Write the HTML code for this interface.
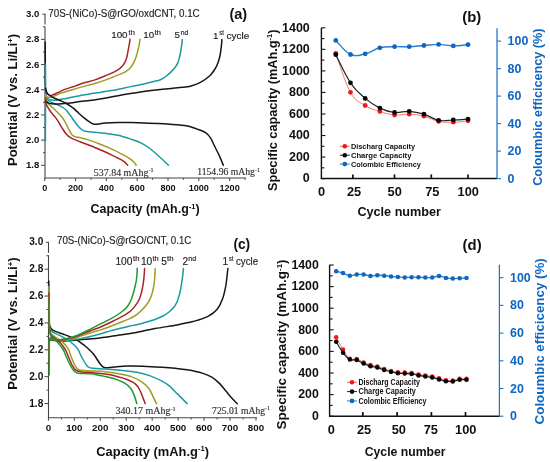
<!DOCTYPE html>
<html><head><meta charset="utf-8"><style>
html,body{margin:0;padding:0;background:#fff;width:550px;height:462px;overflow:hidden;}
svg{display:block;filter:blur(0.35px);}
</style></head><body>
<svg xmlns="http://www.w3.org/2000/svg" width="550" height="462" viewBox="0 0 550 462">
<rect width="550" height="462" fill="#fff"/>
<line x1="45" y1="14.2" x2="45" y2="24.5" stroke="#444" stroke-width="1.1"/>
<line x1="45" y1="26.5" x2="45" y2="178.5" stroke="#444" stroke-width="1.1"/>
<line x1="44.5" y1="178" x2="246" y2="178" stroke="#444" stroke-width="1.1"/>
<line x1="42.3" y1="14.2" x2="45.5" y2="14.2" stroke="#444" stroke-width="1"/>
<line x1="43" y1="26.79" x2="45" y2="26.79" stroke="#444" stroke-width="1"/>
<line x1="41" y1="39.38" x2="45" y2="39.38" stroke="#444" stroke-width="1"/>
<line x1="43" y1="51.97" x2="45" y2="51.97" stroke="#444" stroke-width="1"/>
<line x1="41" y1="64.56" x2="45" y2="64.56" stroke="#444" stroke-width="1"/>
<line x1="43" y1="77.15" x2="45" y2="77.15" stroke="#444" stroke-width="1"/>
<line x1="41" y1="89.74" x2="45" y2="89.74" stroke="#444" stroke-width="1"/>
<line x1="43" y1="102.33" x2="45" y2="102.33" stroke="#444" stroke-width="1"/>
<line x1="41" y1="114.92" x2="45" y2="114.92" stroke="#444" stroke-width="1"/>
<line x1="43" y1="127.51" x2="45" y2="127.51" stroke="#444" stroke-width="1"/>
<line x1="41" y1="140.1" x2="45" y2="140.1" stroke="#444" stroke-width="1"/>
<line x1="43" y1="152.69" x2="45" y2="152.69" stroke="#444" stroke-width="1"/>
<line x1="41" y1="165.28" x2="45" y2="165.28" stroke="#444" stroke-width="1"/>
<line x1="44.8" y1="178" x2="44.8" y2="181" stroke="#444" stroke-width="1"/>
<line x1="60.2" y1="178" x2="60.2" y2="179.8" stroke="#444" stroke-width="1"/>
<line x1="75.6" y1="178" x2="75.6" y2="181" stroke="#444" stroke-width="1"/>
<line x1="91" y1="178" x2="91" y2="179.8" stroke="#444" stroke-width="1"/>
<line x1="106.4" y1="178" x2="106.4" y2="181" stroke="#444" stroke-width="1"/>
<line x1="121.8" y1="178" x2="121.8" y2="179.8" stroke="#444" stroke-width="1"/>
<line x1="137.2" y1="178" x2="137.2" y2="181" stroke="#444" stroke-width="1"/>
<line x1="152.6" y1="178" x2="152.6" y2="179.8" stroke="#444" stroke-width="1"/>
<line x1="168" y1="178" x2="168" y2="181" stroke="#444" stroke-width="1"/>
<line x1="183.4" y1="178" x2="183.4" y2="179.8" stroke="#444" stroke-width="1"/>
<line x1="198.8" y1="178" x2="198.8" y2="181" stroke="#444" stroke-width="1"/>
<line x1="214.2" y1="178" x2="214.2" y2="179.8" stroke="#444" stroke-width="1"/>
<line x1="229.6" y1="178" x2="229.6" y2="181" stroke="#444" stroke-width="1"/>
<line x1="245" y1="178" x2="245" y2="179.8" stroke="#444" stroke-width="1"/>
<text x="39.3" y="17.3" font-family='"Liberation Sans", sans-serif' font-size="9.6" font-weight="bold" fill="#111" text-anchor="end" >3.0</text>
<text x="39.3" y="42.48" font-family='"Liberation Sans", sans-serif' font-size="9.6" font-weight="bold" fill="#111" text-anchor="end" >2.8</text>
<text x="39.3" y="67.66" font-family='"Liberation Sans", sans-serif' font-size="9.6" font-weight="bold" fill="#111" text-anchor="end" >2.6</text>
<text x="39.3" y="92.84" font-family='"Liberation Sans", sans-serif' font-size="9.6" font-weight="bold" fill="#111" text-anchor="end" >2.4</text>
<text x="39.3" y="118.02" font-family='"Liberation Sans", sans-serif' font-size="9.6" font-weight="bold" fill="#111" text-anchor="end" >2.2</text>
<text x="39.3" y="143.2" font-family='"Liberation Sans", sans-serif' font-size="9.6" font-weight="bold" fill="#111" text-anchor="end" >2.0</text>
<text x="39.3" y="168.38" font-family='"Liberation Sans", sans-serif' font-size="9.6" font-weight="bold" fill="#111" text-anchor="end" >1.8</text>
<text x="44.8" y="190.6" font-family='"Liberation Sans", sans-serif' font-size="9.1" font-weight="bold" fill="#111" text-anchor="middle" >0</text>
<text x="75.6" y="190.6" font-family='"Liberation Sans", sans-serif' font-size="9.1" font-weight="bold" fill="#111" text-anchor="middle" >200</text>
<text x="106.4" y="190.6" font-family='"Liberation Sans", sans-serif' font-size="9.1" font-weight="bold" fill="#111" text-anchor="middle" >400</text>
<text x="137.2" y="190.6" font-family='"Liberation Sans", sans-serif' font-size="9.1" font-weight="bold" fill="#111" text-anchor="middle" >600</text>
<text x="168" y="190.6" font-family='"Liberation Sans", sans-serif' font-size="9.1" font-weight="bold" fill="#111" text-anchor="middle" >800</text>
<text x="198.8" y="190.6" font-family='"Liberation Sans", sans-serif' font-size="9.1" font-weight="bold" fill="#111" text-anchor="middle" >1000</text>
<text x="229.6" y="190.6" font-family='"Liberation Sans", sans-serif' font-size="9.1" font-weight="bold" fill="#111" text-anchor="middle" >1200</text>
<path d="M45.2,42 C45.22,46.67 45.27,62.67 45.3,70 C45.33,77.33 45.38,83.33 45.4,86" fill="none" stroke="#161616" stroke-width="1.5" stroke-linejoin="round" stroke-linecap="round"/>
<path d="M45.4,64 C45.42,67.5 45.43,80.17 45.5,85 C45.57,89.83 45.63,90.92 45.8,93 C45.97,95.08 45.97,96.17 46.5,97.5 C47.03,98.83 47.92,100.08 49,101 C50.08,101.92 51.5,102.33 53,103 C54.5,103.67 56.33,104.25 58,105 C59.67,105.75 61.5,106.5 63,107.5 C64.5,108.5 65.45,109.22 67,111 C68.55,112.78 70.4,115.62 72.3,118.2 C74.2,120.78 76.63,124.48 78.4,126.5 C80.17,128.52 81.38,129.45 82.9,130.3 C84.42,131.15 84.72,131.18 87.5,131.6 C90.28,132.02 96.68,132.53 99.6,132.8 C102.52,133.07 101.93,132.78 105,133.2 C108.07,133.62 113.67,134.3 118,135.3 C122.33,136.3 127.1,137.9 131,139.2 C134.9,140.5 138.15,141.47 141.4,143.1 C144.65,144.73 147.48,146.72 150.5,149 C153.52,151.28 156.48,154.1 159.5,156.8 C162.52,159.5 167.08,163.8 168.6,165.2" fill="none" stroke="#1b9aa2" stroke-width="1.5" stroke-linejoin="round" stroke-linecap="round"/>
<path d="M45.4,141 C45.42,135.83 45.43,116.83 45.5,110 C45.57,103.17 45.62,102.02 45.8,100 C45.98,97.98 45.98,97.97 46.6,97.9 C47.22,97.83 48.58,99.23 49.5,99.6 C50.42,99.97 50.73,100.05 52.1,100.1 C53.47,100.15 55.72,100.12 57.7,99.9 C59.68,99.68 61.87,99.2 64,98.8 C66.13,98.4 67.83,98.02 70.5,97.5 C73.17,96.98 76.83,96.3 80,95.7 C83.17,95.1 86.17,94.45 89.5,93.9 C92.83,93.35 96.58,92.92 100,92.4 C103.42,91.88 105.92,91.55 110,90.8 C114.08,90.05 119.65,88.87 124.5,87.9 C129.35,86.93 134.25,86.05 139.1,85 C143.95,83.95 150.05,82.48 153.6,81.6 C157.15,80.72 158.37,80.55 160.4,79.7 C162.43,78.85 163.98,77.85 165.8,76.5 C167.62,75.15 169.67,73.23 171.3,71.6 C172.93,69.97 174.52,68.15 175.6,66.7 C176.68,65.25 177.17,64.43 177.8,62.9 C178.43,61.37 178.9,59.48 179.4,57.5 C179.9,55.52 180.38,53.35 180.8,51 C181.22,48.65 181.65,45.3 181.9,43.4 C182.15,41.5 182.23,40.23 182.3,39.6" fill="none" stroke="#1b9aa2" stroke-width="1.5" stroke-linejoin="round" stroke-linecap="round"/>
<path d="M45.5,95 C45.62,95.83 45.6,98.4 46.2,100 C46.8,101.6 47.92,103.23 49.1,104.6 C50.28,105.97 51.9,106.92 53.3,108.2 C54.7,109.48 56.22,111 57.5,112.3 C58.78,113.6 59.8,114.52 61,116 C62.2,117.48 63.32,118.82 64.7,121.2 C66.08,123.58 68.03,128 69.3,130.3 C70.57,132.6 71.35,133.95 72.3,135 C73.25,136.05 73.98,136.22 75,136.6 C76.02,136.98 76.32,136.8 78.4,137.3 C80.48,137.8 83.97,138.48 87.5,139.6 C91.03,140.72 95.43,142.37 99.6,144 C103.77,145.63 108.78,147.7 112.5,149.4 C116.22,151.1 119.03,152.65 121.9,154.2 C124.77,155.75 127.77,157.43 129.7,158.7 C131.63,159.97 132.42,160.72 133.5,161.8 C134.58,162.88 135.75,164.63 136.2,165.2" fill="none" stroke="#a09c22" stroke-width="1.5" stroke-linejoin="round" stroke-linecap="round"/>
<path d="M45.8,95.5 C46,95.72 46.47,96.5 47,96.8 C47.53,97.1 48.15,97.27 49,97.3 C49.85,97.33 50.07,97.7 52.1,97 C54.13,96.3 58.13,94.23 61.2,93.1 C64.27,91.97 67.37,91.15 70.5,90.2 C73.63,89.25 76.83,88.28 80,87.4 C83.17,86.52 87,85.55 89.5,84.9 C92,84.25 92.28,84.33 95,83.5 C97.72,82.67 102.2,81.22 105.8,79.9 C109.4,78.58 113.35,76.95 116.6,75.6 C119.85,74.25 122.95,73.15 125.3,71.8 C127.65,70.45 129.08,69.48 130.7,67.5 C132.32,65.52 133.83,62.62 135,59.9 C136.17,57.18 136.97,53.9 137.7,51.2 C138.43,48.5 139.03,45.68 139.4,43.7 C139.77,41.72 139.82,40.03 139.9,39.3" fill="none" stroke="#a09c22" stroke-width="1.5" stroke-linejoin="round" stroke-linecap="round"/>
<path d="M45.4,98 C45.48,98.83 45.47,101.4 45.9,103 C46.33,104.6 47.13,106.05 48,107.6 C48.87,109.15 50.02,110.85 51.1,112.3 C52.18,113.75 53.43,114.97 54.5,116.3 C55.57,117.63 56.3,118.47 57.5,120.3 C58.7,122.13 60.25,125 61.7,127.3 C63.15,129.6 64.68,132.33 66.2,134.1 C67.72,135.87 68.52,136.63 70.8,137.9 C73.08,139.17 76.37,140.32 79.9,141.7 C83.43,143.08 88.22,144.68 92,146.2 C95.78,147.72 99.18,149.27 102.6,150.8 C106.02,152.33 109.5,153.97 112.5,155.4 C115.5,156.83 118.52,158.25 120.6,159.4 C122.68,160.55 123.82,161.33 125,162.3 C126.18,163.27 127.25,164.72 127.7,165.2" fill="none" stroke="#a8232b" stroke-width="1.5" stroke-linejoin="round" stroke-linecap="round"/>
<path d="M45.8,91.5 C46.05,91.92 46.45,93.35 47.3,94 C48.15,94.65 49.08,95.65 50.9,95.4 C52.72,95.15 56,93.47 58.2,92.5 C60.4,91.53 61.3,90.67 64.1,89.6 C66.9,88.53 71.82,87.2 75,86.1 C78.18,85 79.87,84.03 83.2,83 C86.53,81.97 91.23,81.13 95,79.9 C98.77,78.67 102.2,77.13 105.8,75.6 C109.4,74.07 113.72,72.42 116.6,70.7 C119.48,68.98 121.47,67.28 123.1,65.3 C124.73,63.32 125.58,61.15 126.4,58.8 C127.22,56.45 127.5,53.72 128,51.2 C128.5,48.68 129.07,45.68 129.4,43.7 C129.73,41.72 129.9,40.03 130,39.3" fill="none" stroke="#a8232b" stroke-width="1.5" stroke-linejoin="round" stroke-linecap="round"/>
<path d="M45.6,88 C45.7,88.43 45.93,89.75 46.2,90.6 C46.47,91.45 46.62,92.28 47.2,93.1 C47.78,93.92 48.38,94.6 49.7,95.5 C51.02,96.4 53.18,97.58 55.1,98.5 C57.02,99.42 59.18,100.08 61.2,101 C63.22,101.92 65.18,102.8 67.2,104 C69.22,105.2 71.7,106.97 73.3,108.2 C74.9,109.43 74.95,109.73 76.8,111.4 C78.65,113.07 82.12,116.32 84.4,118.2 C86.68,120.08 88.85,121.68 90.5,122.7 C92.15,123.72 92.78,124.1 94.3,124.3 C95.82,124.5 97.82,124.12 99.6,123.9 C101.38,123.68 101.93,123.25 105,123 C108.07,122.75 113.67,122.47 118,122.4 C122.33,122.33 126.67,122.5 131,122.6 C135.33,122.7 139.67,122.85 144,123 C148.33,123.15 153.17,123.33 157,123.5 C160.83,123.67 163.67,123.78 167,124 C170.33,124.22 173.55,124.45 177,124.8 C180.45,125.15 184.15,125.32 187.7,126.1 C191.25,126.88 195.27,128.38 198.3,129.5 C201.33,130.62 203.87,131.4 205.9,132.8 C207.93,134.2 208.98,135.53 210.5,137.9 C212.02,140.27 213.5,143.97 215,147 C216.5,150.03 218.12,153.07 219.5,156.1 C220.88,159.13 222.67,163.68 223.3,165.2" fill="none" stroke="#161616" stroke-width="1.5" stroke-linejoin="round" stroke-linecap="round"/>
<path d="M46.3,101.5 C46.77,101.82 47.63,102.98 49.1,103.4 C50.57,103.82 52.95,103.93 55.1,104 C57.25,104.07 59.43,103.95 62,103.8 C64.57,103.65 67.5,103.47 70.5,103.1 C73.5,102.73 76.83,102.02 80,101.6 C83.17,101.18 86.17,101.03 89.5,100.6 C92.83,100.17 96.58,99.57 100,99 C103.42,98.43 105.92,97.97 110,97.2 C114.08,96.43 119.65,95.23 124.5,94.4 C129.35,93.57 134.25,92.88 139.1,92.2 C143.95,91.52 148.75,90.88 153.6,90.3 C158.45,89.72 163.35,89.2 168.2,88.7 C173.05,88.2 179.02,87.72 182.7,87.3 C186.38,86.88 187.35,87.02 190.3,86.2 C193.25,85.38 197.2,84.1 200.4,82.4 C203.6,80.7 207.12,78.15 209.5,76 C211.88,73.85 213.3,71.67 214.7,69.5 C216.1,67.33 217,65.42 217.9,63 C218.8,60.58 219.52,57.87 220.1,55 C220.68,52.13 221.1,48.37 221.4,45.8 C221.7,43.23 221.82,40.63 221.9,39.6" fill="none" stroke="#161616" stroke-width="1.5" stroke-linejoin="round" stroke-linecap="round"/>
<text x="48.3" y="16.8" font-family='"Liberation Sans", sans-serif' font-size="10" font-weight="normal" fill="#222" text-anchor="start" stroke="#222" stroke-width="0.15" textLength="151.4" lengthAdjust="spacingAndGlyphs" >70S-(NiCo)-S@rGO/oxdCNT, 0.1C</text>
<text x="229.4" y="18.6" font-family='"Liberation Sans", sans-serif' font-size="14.6" font-weight="bold" fill="#111" text-anchor="start" textLength="17.8" lengthAdjust="spacingAndGlyphs" >(a)</text>
<text x="111.2" y="38.2" font-family='"Liberation Sans", sans-serif' font-size="9.8" font-weight="normal" fill="#222" text-anchor="start" stroke="#222" stroke-width="0.15" >100</text>
<text x="128.6" y="34.7" font-family='"Liberation Sans", sans-serif' font-size="6.4" font-weight="normal" fill="#222" text-anchor="start" stroke="#222" stroke-width="0.15" textLength="6.2" lengthAdjust="spacingAndGlyphs" >th</text>
<text x="143.3" y="38.2" font-family='"Liberation Sans", sans-serif' font-size="9.8" font-weight="normal" fill="#222" text-anchor="start" stroke="#222" stroke-width="0.15" >10</text>
<text x="154.7" y="34.7" font-family='"Liberation Sans", sans-serif' font-size="6.4" font-weight="normal" fill="#222" text-anchor="start" stroke="#222" stroke-width="0.15" textLength="6.2" lengthAdjust="spacingAndGlyphs" >th</text>
<text x="174.6" y="38.2" font-family='"Liberation Sans", sans-serif' font-size="9.8" font-weight="normal" fill="#222" text-anchor="start" stroke="#222" stroke-width="0.15" >5</text>
<text x="180.8" y="34.7" font-family='"Liberation Sans", sans-serif' font-size="6.4" font-weight="normal" fill="#222" text-anchor="start" stroke="#222" stroke-width="0.15" textLength="7.6" lengthAdjust="spacingAndGlyphs" >nd</text>
<text x="213" y="38.8" font-family='"Liberation Sans", sans-serif' font-size="9.8" font-weight="normal" fill="#222" text-anchor="start" stroke="#222" stroke-width="0.15" >1</text>
<text x="219.2" y="35.3" font-family='"Liberation Sans", sans-serif' font-size="6.4" font-weight="normal" fill="#222" text-anchor="start" stroke="#222" stroke-width="0.15" textLength="4.6" lengthAdjust="spacingAndGlyphs" >st</text>
<text x="226.6" y="38.8" font-family='"Liberation Sans", sans-serif' font-size="9.8" font-weight="normal" fill="#222" text-anchor="start" stroke="#222" stroke-width="0.15" textLength="22.8" lengthAdjust="spacingAndGlyphs" >cycle</text>
<text x="93.8" y="175.6" font-family='"Liberation Serif", serif' font-size="9.3" fill="#333" stroke="#333" stroke-width="0.15" textLength="59.8" lengthAdjust="spacingAndGlyphs">537.84 mAhg<tspan font-size="5.77" dy="-3.5">-1</tspan></text>
<text x="197.2" y="175.1" font-family='"Liberation Serif", serif' font-size="9.3" fill="#333" stroke="#333" stroke-width="0.15" textLength="62.8" lengthAdjust="spacingAndGlyphs">1154.96 mAhg<tspan font-size="5.77" dy="-3.5">-1</tspan></text>
<text x="90.6" y="213.3" font-family='"Liberation Sans", sans-serif' font-size="12.4" font-weight="bold" fill="#111" textLength="109" lengthAdjust="spacingAndGlyphs">Capacity (mAh.g<tspan font-size="7.44" dy="-4.2">-1</tspan><tspan dy="4.2">)</tspan></text>
<text transform="translate(17.3,166) rotate(-90)" x="0" y="0" font-family='"Liberation Sans", sans-serif' font-size="12.9" font-weight="bold" fill="#111" textLength="132" lengthAdjust="spacingAndGlyphs">Potential (V vs. Li/Li<tspan font-size="7.74" dy="-4.5">+</tspan><tspan dy="4.5">)</tspan></text>
<line x1="48.5" y1="242.3" x2="48.5" y2="252.8" stroke="#444" stroke-width="1.1"/>
<line x1="48.5" y1="255.2" x2="48.5" y2="418.2" stroke="#444" stroke-width="1.1"/>
<line x1="48" y1="417.7" x2="257" y2="417.7" stroke="#444" stroke-width="1.1"/>
<line x1="45.8" y1="242.3" x2="49" y2="242.3" stroke="#444" stroke-width="1"/>
<line x1="46.5" y1="255.74" x2="48.5" y2="255.74" stroke="#444" stroke-width="1"/>
<line x1="44.5" y1="269.18" x2="48.5" y2="269.18" stroke="#444" stroke-width="1"/>
<line x1="46.5" y1="282.62" x2="48.5" y2="282.62" stroke="#444" stroke-width="1"/>
<line x1="44.5" y1="296.06" x2="48.5" y2="296.06" stroke="#444" stroke-width="1"/>
<line x1="46.5" y1="309.5" x2="48.5" y2="309.5" stroke="#444" stroke-width="1"/>
<line x1="44.5" y1="322.94" x2="48.5" y2="322.94" stroke="#444" stroke-width="1"/>
<line x1="46.5" y1="336.38" x2="48.5" y2="336.38" stroke="#444" stroke-width="1"/>
<line x1="44.5" y1="349.82" x2="48.5" y2="349.82" stroke="#444" stroke-width="1"/>
<line x1="46.5" y1="363.26" x2="48.5" y2="363.26" stroke="#444" stroke-width="1"/>
<line x1="44.5" y1="376.7" x2="48.5" y2="376.7" stroke="#444" stroke-width="1"/>
<line x1="46.5" y1="390.14" x2="48.5" y2="390.14" stroke="#444" stroke-width="1"/>
<line x1="44.5" y1="403.58" x2="48.5" y2="403.58" stroke="#444" stroke-width="1"/>
<line x1="48.4" y1="417.7" x2="48.4" y2="420.7" stroke="#444" stroke-width="1"/>
<line x1="61.38" y1="417.7" x2="61.38" y2="419.5" stroke="#444" stroke-width="1"/>
<line x1="74.35" y1="417.7" x2="74.35" y2="420.7" stroke="#444" stroke-width="1"/>
<line x1="87.33" y1="417.7" x2="87.33" y2="419.5" stroke="#444" stroke-width="1"/>
<line x1="100.3" y1="417.7" x2="100.3" y2="420.7" stroke="#444" stroke-width="1"/>
<line x1="113.28" y1="417.7" x2="113.28" y2="419.5" stroke="#444" stroke-width="1"/>
<line x1="126.25" y1="417.7" x2="126.25" y2="420.7" stroke="#444" stroke-width="1"/>
<line x1="139.22" y1="417.7" x2="139.22" y2="419.5" stroke="#444" stroke-width="1"/>
<line x1="152.2" y1="417.7" x2="152.2" y2="420.7" stroke="#444" stroke-width="1"/>
<line x1="165.18" y1="417.7" x2="165.18" y2="419.5" stroke="#444" stroke-width="1"/>
<line x1="178.15" y1="417.7" x2="178.15" y2="420.7" stroke="#444" stroke-width="1"/>
<line x1="191.12" y1="417.7" x2="191.12" y2="419.5" stroke="#444" stroke-width="1"/>
<line x1="204.1" y1="417.7" x2="204.1" y2="420.7" stroke="#444" stroke-width="1"/>
<line x1="217.08" y1="417.7" x2="217.08" y2="419.5" stroke="#444" stroke-width="1"/>
<line x1="230.05" y1="417.7" x2="230.05" y2="420.7" stroke="#444" stroke-width="1"/>
<line x1="243.03" y1="417.7" x2="243.03" y2="419.5" stroke="#444" stroke-width="1"/>
<line x1="256" y1="417.7" x2="256" y2="420.7" stroke="#444" stroke-width="1"/>
<text x="43.3" y="245.4" font-family='"Liberation Sans", sans-serif' font-size="10.1" font-weight="bold" fill="#111" text-anchor="end" >3.0</text>
<text x="43.3" y="272.28" font-family='"Liberation Sans", sans-serif' font-size="10.1" font-weight="bold" fill="#111" text-anchor="end" >2.8</text>
<text x="43.3" y="299.16" font-family='"Liberation Sans", sans-serif' font-size="10.1" font-weight="bold" fill="#111" text-anchor="end" >2.6</text>
<text x="43.3" y="326.04" font-family='"Liberation Sans", sans-serif' font-size="10.1" font-weight="bold" fill="#111" text-anchor="end" >2.4</text>
<text x="43.3" y="352.92" font-family='"Liberation Sans", sans-serif' font-size="10.1" font-weight="bold" fill="#111" text-anchor="end" >2.2</text>
<text x="43.3" y="379.8" font-family='"Liberation Sans", sans-serif' font-size="10.1" font-weight="bold" fill="#111" text-anchor="end" >2.0</text>
<text x="43.3" y="406.68" font-family='"Liberation Sans", sans-serif' font-size="10.1" font-weight="bold" fill="#111" text-anchor="end" >1.8</text>
<text x="48.4" y="431" font-family='"Liberation Sans", sans-serif' font-size="9.8" font-weight="bold" fill="#111" text-anchor="middle" >0</text>
<text x="74.35" y="431" font-family='"Liberation Sans", sans-serif' font-size="9.8" font-weight="bold" fill="#111" text-anchor="middle" >100</text>
<text x="100.3" y="431" font-family='"Liberation Sans", sans-serif' font-size="9.8" font-weight="bold" fill="#111" text-anchor="middle" >200</text>
<text x="126.25" y="431" font-family='"Liberation Sans", sans-serif' font-size="9.8" font-weight="bold" fill="#111" text-anchor="middle" >300</text>
<text x="152.2" y="431" font-family='"Liberation Sans", sans-serif' font-size="9.8" font-weight="bold" fill="#111" text-anchor="middle" >400</text>
<text x="178.15" y="431" font-family='"Liberation Sans", sans-serif' font-size="9.8" font-weight="bold" fill="#111" text-anchor="middle" >500</text>
<text x="204.1" y="431" font-family='"Liberation Sans", sans-serif' font-size="9.8" font-weight="bold" fill="#111" text-anchor="middle" >600</text>
<text x="230.05" y="431" font-family='"Liberation Sans", sans-serif' font-size="9.8" font-weight="bold" fill="#111" text-anchor="middle" >700</text>
<text x="256" y="431" font-family='"Liberation Sans", sans-serif' font-size="9.8" font-weight="bold" fill="#111" text-anchor="middle" >800</text>
<path d="M48.8,281 C48.82,284.17 48.83,293.17 48.9,300 C48.97,306.83 49,317.53 49.2,322 C49.4,326.47 49.57,325.5 50.1,326.8 C50.63,328.1 51.42,329 52.4,329.8 C53.38,330.6 54.17,330.87 56,331.6 C57.83,332.33 61.18,333.4 63.4,334.2 C65.62,335 67.22,335.55 69.3,336.4 C71.38,337.25 74.07,338.32 75.9,339.3 C77.73,340.28 78.95,341.32 80.3,342.3 C81.65,343.28 82.72,344.17 84,345.2 C85.28,346.23 86.42,347.03 88,348.5 C89.58,349.97 91.58,351.58 93.5,354 C95.42,356.42 97.98,360.9 99.5,363 C101.02,365.1 101.58,365.8 102.6,366.6 C103.62,367.4 103.68,367.73 105.6,367.8 C107.52,367.87 110.42,367.28 114.1,367 C117.78,366.72 122.9,366.22 127.7,366.1 C132.5,365.98 137.18,366.1 142.9,366.3 C148.62,366.5 156.65,366.97 162,367.3 C167.35,367.63 170.82,367.88 175,368.3 C179.18,368.72 182.57,369 187.1,369.8 C191.63,370.6 198.02,371.85 202.2,373.1 C206.38,374.35 209.28,375.55 212.2,377.3 C215.12,379.05 217.4,381.3 219.7,383.6 C222,385.9 223.92,388.6 226,391.1 C228.08,393.6 230.33,396.52 232.2,398.6 C234.07,400.68 236.37,402.77 237.2,403.6" fill="none" stroke="#161616" stroke-width="1.5" stroke-linejoin="round" stroke-linecap="round"/>
<path d="M49,345 C49.05,344.33 48.97,341.87 49.3,341 C49.63,340.13 50.05,339.87 51,339.8 C51.95,339.73 53.47,340.38 55,340.6 C56.53,340.82 58.2,341.07 60.2,341.1 C62.2,341.13 64.48,340.95 67,340.8 C69.52,340.65 72.3,340.45 75.3,340.2 C78.3,339.95 80.88,339.68 85,339.3 C89.12,338.92 94.25,338.62 100,337.9 C105.75,337.18 113.73,335.85 119.5,335 C125.27,334.15 128.68,333.87 134.6,332.8 C140.52,331.73 147.93,329.9 155,328.6 C162.07,327.3 171.17,326.07 177,325 C182.83,323.93 186.67,322.97 190,322.2 C193.33,321.43 194,321.37 197,320.4 C200,319.43 204.67,318.22 208,316.4 C211.33,314.58 214.62,312.3 217,309.5 C219.38,306.7 220.83,303.55 222.3,299.6 C223.77,295.65 224.93,290.42 225.8,285.8 C226.67,281.18 227.15,274.78 227.5,271.9 C227.85,269.02 227.83,269.07 227.9,268.5" fill="none" stroke="#161616" stroke-width="1.5" stroke-linejoin="round" stroke-linecap="round"/>
<path d="M48.9,286 C48.92,290 48.93,303.5 49,310 C49.07,316.5 49.12,321.7 49.3,325 C49.48,328.3 49.35,328.52 50.1,329.8 C50.85,331.08 52.2,331.78 53.8,332.7 C55.4,333.62 57.73,334.32 59.7,335.3 C61.67,336.28 63.88,337.57 65.6,338.6 C67.32,339.63 68.53,340.4 70,341.5 C71.47,342.6 73.05,343.85 74.4,345.2 C75.75,346.55 76.93,347.72 78.1,349.6 C79.27,351.48 80.1,354.05 81.4,356.5 C82.7,358.95 84.65,362.48 85.9,364.3 C87.15,366.12 87.63,366.73 88.9,367.4 C90.17,368.07 90.82,368.02 93.5,368.3 C96.18,368.58 100.55,368.77 105,369.1 C109.45,369.43 114.87,369.77 120.2,370.3 C125.53,370.83 132.12,371.42 137,372.3 C141.88,373.18 145.33,374.13 149.5,375.6 C153.67,377.07 158.65,379.35 162,381.1 C165.35,382.85 167.08,384.02 169.6,386.1 C172.12,388.18 174.8,391.3 177.1,393.6 C179.4,395.9 181.73,398.23 183.4,399.9 C185.07,401.57 186.48,402.98 187.1,403.6" fill="none" stroke="#1b9aa2" stroke-width="1.5" stroke-linejoin="round" stroke-linecap="round"/>
<path d="M49.1,350 C49.13,348.5 48.98,342.78 49.3,341 C49.62,339.22 50.05,339.38 51,339.3 C51.95,339.22 53.5,340.27 55,340.5 C56.5,340.73 57.88,340.73 60,340.7 C62.12,340.67 65.15,340.48 67.7,340.3 C70.25,340.12 72.42,340.02 75.3,339.6 C78.18,339.18 80.88,338.73 85,337.8 C89.12,336.87 95.88,335.12 100,334 C104.12,332.88 106.45,332 109.7,331.1 C112.95,330.2 116.25,329.42 119.5,328.6 C122.75,327.78 126.53,326.8 129.2,326.2 C131.87,325.6 132.87,325.62 135.5,325 C138.13,324.38 141.75,323.42 145,322.5 C148.25,321.58 152,320.58 155,319.5 C158,318.42 160.67,317.25 163,316 C165.33,314.75 167.17,313.5 169,312 C170.83,310.5 172.67,308.67 174,307 C175.33,305.33 176.17,303.83 177,302 C177.83,300.17 178.42,298 179,296 C179.58,294 180.03,292.33 180.5,290 C180.97,287.67 181.42,284.5 181.8,282 C182.18,279.5 182.53,277.23 182.8,275 C183.07,272.77 183.3,269.67 183.4,268.6" fill="none" stroke="#1b9aa2" stroke-width="1.5" stroke-linejoin="round" stroke-linecap="round"/>
<path d="M49,287 C49.02,290.83 49.02,303.17 49.1,310 C49.18,316.83 49.2,324.1 49.5,328 C49.8,331.9 49.93,331.88 50.9,333.4 C51.87,334.92 53.58,335.87 55.3,337.1 C57.02,338.33 59.6,339.57 61.2,340.8 C62.8,342.03 63.68,343.05 64.9,344.5 C66.12,345.95 67.57,347.75 68.5,349.5 C69.43,351.25 69.62,352.75 70.5,355 C71.38,357.25 72.62,360.65 73.8,363 C74.98,365.35 76.33,367.88 77.6,369.1 C78.87,370.32 79.25,370 81.4,370.3 C83.55,370.6 86.57,370.65 90.5,370.9 C94.43,371.15 100.05,371.27 105,371.8 C109.95,372.33 115.65,373.22 120.2,374.1 C124.75,374.98 128.77,375.83 132.3,377.1 C135.83,378.37 138.63,379.8 141.4,381.7 C144.17,383.6 146.88,385.85 148.9,388.5 C150.92,391.15 152.23,395.08 153.5,397.6 C154.77,400.12 156,402.6 156.5,403.6" fill="none" stroke="#a09c22" stroke-width="1.5" stroke-linejoin="round" stroke-linecap="round"/>
<path d="M49.2,360 C49.22,356.83 49,344.53 49.3,341 C49.6,337.47 50.05,338.97 51,338.8 C51.95,338.63 53.5,339.77 55,340 C56.5,340.23 58,340.23 60,340.2 C62,340.17 64.45,340.17 67,339.8 C69.55,339.43 72.8,338.7 75.3,338 C77.8,337.3 79.55,336.43 82,335.6 C84.45,334.77 87,333.92 90,333 C93,332.08 96.72,331.15 100,330.1 C103.28,329.05 106.45,327.92 109.7,326.7 C112.95,325.48 116.25,324.1 119.5,322.8 C122.75,321.5 126.68,320.03 129.2,318.9 C131.72,317.77 133.02,316.98 134.6,316 C136.18,315.02 136.87,314.67 138.7,313 C140.53,311.33 143.72,308.32 145.6,306 C147.48,303.68 148.85,301.42 150,299.1 C151.15,296.78 151.85,294.42 152.5,292.1 C153.15,289.78 153.55,287.38 153.9,285.2 C154.25,283.02 154.42,281.03 154.6,279 C154.78,276.97 154.9,274.72 155,273 C155.1,271.28 155.17,269.42 155.2,268.7" fill="none" stroke="#a09c22" stroke-width="1.5" stroke-linejoin="round" stroke-linecap="round"/>
<path d="M49,293 C49.02,295.83 49.02,304 49.1,310 C49.18,316 49.2,324.85 49.5,329 C49.8,333.15 49.93,333.3 50.9,334.9 C51.87,336.5 53.83,337.37 55.3,338.6 C56.77,339.83 58.35,340.95 59.7,342.3 C61.05,343.65 62.3,345.17 63.4,346.7 C64.5,348.23 65.45,349.78 66.3,351.5 C67.15,353.22 67.5,354.7 68.5,357 C69.5,359.3 71.03,363.07 72.3,365.3 C73.57,367.53 74.58,369.28 76.1,370.4 C77.62,371.52 79,371.67 81.4,372 C83.8,372.33 86.57,372.05 90.5,372.4 C94.43,372.75 100.57,373.43 105,374.1 C109.43,374.77 113.32,375.47 117.1,376.4 C120.88,377.33 124.67,378.45 127.7,379.7 C130.73,380.95 133.28,382.18 135.3,383.9 C137.32,385.62 138.53,387.72 139.8,390 C141.07,392.28 142,395.33 142.9,397.6 C143.8,399.87 144.82,402.6 145.2,403.6" fill="none" stroke="#a8232b" stroke-width="1.5" stroke-linejoin="round" stroke-linecap="round"/>
<path d="M49.2,365 C49.22,361 49,345.43 49.3,341 C49.6,336.57 50.05,338.6 51,338.4 C51.95,338.2 53.5,339.53 55,339.8 C56.5,340.07 58,340.13 60,340 C62,339.87 64.45,339.53 67,339 C69.55,338.47 72.8,337.58 75.3,336.8 C77.8,336.02 79.55,335.27 82,334.3 C84.45,333.33 87,332.18 90,331 C93,329.82 96.72,328.57 100,327.2 C103.28,325.83 106.45,324.35 109.7,322.8 C112.95,321.25 116.25,319.68 119.5,317.9 C122.75,316.12 126.77,313.88 129.2,312.1 C131.63,310.32 132.52,309.13 134.1,307.2 C135.68,305.27 137.5,302.87 138.7,300.5 C139.9,298.13 140.58,295.55 141.3,293 C142.02,290.45 142.57,287.7 143,285.2 C143.43,282.7 143.67,280.2 143.9,278 C144.13,275.8 144.28,273.57 144.4,272 C144.52,270.43 144.57,269.17 144.6,268.6" fill="none" stroke="#a8232b" stroke-width="1.5" stroke-linejoin="round" stroke-linecap="round"/>
<path d="M49.2,297.5 C49.22,300.42 49.23,309.58 49.3,315 C49.37,320.42 49.33,326.43 49.6,330 C49.87,333.57 50.07,334.85 50.9,336.4 C51.73,337.95 53.38,338.2 54.6,339.3 C55.82,340.4 57.1,341.77 58.2,343 C59.3,344.23 60.22,345.32 61.2,346.7 C62.18,348.08 63.23,349.58 64.1,351.3 C64.97,353.02 65.28,354.53 66.4,357 C67.52,359.47 69.45,363.7 70.8,366.1 C72.15,368.5 73.25,370.22 74.5,371.4 C75.75,372.58 75.63,372.82 78.3,373.2 C80.97,373.58 86.05,373.17 90.5,373.7 C94.95,374.23 100.82,375.5 105,376.4 C109.18,377.3 112.32,377.97 115.6,379.1 C118.88,380.23 122.17,381.63 124.7,383.2 C127.23,384.77 129.17,386.35 130.8,388.5 C132.43,390.65 133.5,393.58 134.5,396.1 C135.5,398.62 136.42,402.35 136.8,403.6" fill="none" stroke="#1c9a2c" stroke-width="1.5" stroke-linejoin="round" stroke-linecap="round"/>
<path d="M49.2,374.8 C49.22,370.67 49.25,355.63 49.3,350 C49.35,344.37 49.25,343 49.5,341 C49.75,339 50.32,338.48 50.8,338 C51.28,337.52 51.53,337.87 52.4,338.1 C53.27,338.33 54.78,339.13 56,339.4 C57.22,339.67 58.37,339.77 59.7,339.7 C61.03,339.63 62.77,339.18 64,339 C65.23,338.82 65.3,339.07 67.1,338.6 C68.9,338.13 72.32,337.1 74.8,336.2 C77.28,335.3 79.47,334.35 82,333.2 C84.53,332.05 87,330.8 90,329.3 C93,327.8 96.72,325.85 100,324.2 C103.28,322.55 106.45,321.18 109.7,319.4 C112.95,317.62 116.73,315.45 119.5,313.5 C122.27,311.55 124.52,309.65 126.3,307.7 C128.08,305.75 129.15,303.83 130.2,301.8 C131.25,299.77 131.98,297.3 132.6,295.5 C133.22,293.7 133.45,292.67 133.9,291 C134.35,289.33 134.88,287.33 135.3,285.5 C135.72,283.67 136.12,281.92 136.4,280 C136.68,278.08 136.85,275.95 137,274 C137.15,272.05 137.25,269.25 137.3,268.3" fill="none" stroke="#1c9a2c" stroke-width="1.5" stroke-linejoin="round" stroke-linecap="round"/>
<text x="57" y="244.2" font-family='"Liberation Sans", sans-serif' font-size="10.6" font-weight="normal" fill="#222" text-anchor="start" stroke="#222" stroke-width="0.15" textLength="134.4" lengthAdjust="spacingAndGlyphs" >70S-(NiCo)-S@rGO/CNT, 0.1C</text>
<text x="233.4" y="248.6" font-family='"Liberation Sans", sans-serif' font-size="14.6" font-weight="bold" fill="#111" text-anchor="start" textLength="16.8" lengthAdjust="spacingAndGlyphs" >(c)</text>
<text x="115.4" y="265.2" font-family='"Liberation Sans", sans-serif' font-size="10.2" font-weight="normal" fill="#222" text-anchor="start" stroke="#222" stroke-width="0.15" >100</text>
<text x="133" y="260.9" font-family='"Liberation Sans", sans-serif' font-size="6.6" font-weight="normal" fill="#222" text-anchor="start" stroke="#222" stroke-width="0.15" textLength="6.4" lengthAdjust="spacingAndGlyphs" >th</text>
<text x="140.9" y="265.2" font-family='"Liberation Sans", sans-serif' font-size="10.2" font-weight="normal" fill="#222" text-anchor="start" stroke="#222" stroke-width="0.15" >10</text>
<text x="152.5" y="260.9" font-family='"Liberation Sans", sans-serif' font-size="6.6" font-weight="normal" fill="#222" text-anchor="start" stroke="#222" stroke-width="0.15" textLength="6.2" lengthAdjust="spacingAndGlyphs" >th</text>
<text x="161.2" y="265.2" font-family='"Liberation Sans", sans-serif' font-size="10.2" font-weight="normal" fill="#222" text-anchor="start" stroke="#222" stroke-width="0.15" >5</text>
<text x="167" y="260.9" font-family='"Liberation Sans", sans-serif' font-size="6.6" font-weight="normal" fill="#222" text-anchor="start" stroke="#222" stroke-width="0.15" textLength="6.5" lengthAdjust="spacingAndGlyphs" >th</text>
<text x="182.4" y="265.2" font-family='"Liberation Sans", sans-serif' font-size="10.2" font-weight="normal" fill="#222" text-anchor="start" stroke="#222" stroke-width="0.15" >2</text>
<text x="188.2" y="260.9" font-family='"Liberation Sans", sans-serif' font-size="6.6" font-weight="normal" fill="#222" text-anchor="start" stroke="#222" stroke-width="0.15" textLength="7.9" lengthAdjust="spacingAndGlyphs" >nd</text>
<text x="222.4" y="265" font-family='"Liberation Sans", sans-serif' font-size="10.2" font-weight="normal" fill="#222" text-anchor="start" stroke="#222" stroke-width="0.15" >1</text>
<text x="228.9" y="260.7" font-family='"Liberation Sans", sans-serif' font-size="6.6" font-weight="normal" fill="#222" text-anchor="start" stroke="#222" stroke-width="0.15" textLength="4.4" lengthAdjust="spacingAndGlyphs" >st</text>
<text x="236" y="265" font-family='"Liberation Sans", sans-serif' font-size="10.2" font-weight="normal" fill="#222" text-anchor="start" stroke="#222" stroke-width="0.15" textLength="22.2" lengthAdjust="spacingAndGlyphs" >cycle</text>
<text x="115.6" y="414" font-family='"Liberation Serif", serif' font-size="9.3" fill="#333" stroke="#333" stroke-width="0.15" textLength="60" lengthAdjust="spacingAndGlyphs">340.17 mAhg<tspan font-size="5.77" dy="-3.5">-1</tspan></text>
<text x="212.1" y="413.6" font-family='"Liberation Serif", serif' font-size="9.3" fill="#333" stroke="#333" stroke-width="0.15" textLength="58" lengthAdjust="spacingAndGlyphs">725.01 mAhg<tspan font-size="5.77" dy="-3.5">-1</tspan></text>
<text x="96.3" y="455.6" font-family='"Liberation Sans", sans-serif' font-size="12.8" font-weight="bold" fill="#111" textLength="112.8" lengthAdjust="spacingAndGlyphs">Capacity (mAh.g<tspan font-size="7.68" dy="-4.2">-1</tspan><tspan dy="4.2">)</tspan></text>
<text transform="translate(17.4,389.8) rotate(-90)" x="0" y="0" font-family='"Liberation Sans", sans-serif' font-size="12.9" font-weight="bold" fill="#111" textLength="132.4" lengthAdjust="spacingAndGlyphs">Potential (V vs. Li/Li<tspan font-size="7.74" dy="-4.5">+</tspan><tspan dy="4.5">)</tspan></text>
<line x1="321.4" y1="27.8" x2="321.4" y2="179.1" stroke="#111" stroke-width="1.4"/>
<line x1="321.4" y1="178.6" x2="325.4" y2="178.6" stroke="#111" stroke-width="1.1"/>
<line x1="321.4" y1="167.83" x2="324.4" y2="167.83" stroke="#111" stroke-width="1.1"/>
<line x1="321.4" y1="157.06" x2="325.4" y2="157.06" stroke="#111" stroke-width="1.1"/>
<line x1="321.4" y1="146.29" x2="324.4" y2="146.29" stroke="#111" stroke-width="1.1"/>
<line x1="321.4" y1="135.52" x2="325.4" y2="135.52" stroke="#111" stroke-width="1.1"/>
<line x1="321.4" y1="124.75" x2="324.4" y2="124.75" stroke="#111" stroke-width="1.1"/>
<line x1="321.4" y1="113.98" x2="325.4" y2="113.98" stroke="#111" stroke-width="1.1"/>
<line x1="321.4" y1="103.21" x2="324.4" y2="103.21" stroke="#111" stroke-width="1.1"/>
<line x1="321.4" y1="92.44" x2="325.4" y2="92.44" stroke="#111" stroke-width="1.1"/>
<line x1="321.4" y1="81.67" x2="324.4" y2="81.67" stroke="#111" stroke-width="1.1"/>
<line x1="321.4" y1="70.9" x2="325.4" y2="70.9" stroke="#111" stroke-width="1.1"/>
<line x1="321.4" y1="60.13" x2="324.4" y2="60.13" stroke="#111" stroke-width="1.1"/>
<line x1="321.4" y1="49.36" x2="325.4" y2="49.36" stroke="#111" stroke-width="1.1"/>
<line x1="321.4" y1="38.59" x2="324.4" y2="38.59" stroke="#111" stroke-width="1.1"/>
<line x1="321.4" y1="27.82" x2="325.4" y2="27.82" stroke="#111" stroke-width="1.1"/>
<text x="309.8" y="182.4" font-family='"Liberation Sans", sans-serif' font-size="12.5" font-weight="bold" fill="#111" text-anchor="end" >0</text>
<text x="309.8" y="160.86" font-family='"Liberation Sans", sans-serif' font-size="12.5" font-weight="bold" fill="#111" text-anchor="end" >200</text>
<text x="309.8" y="139.32" font-family='"Liberation Sans", sans-serif' font-size="12.5" font-weight="bold" fill="#111" text-anchor="end" >400</text>
<text x="309.8" y="117.78" font-family='"Liberation Sans", sans-serif' font-size="12.5" font-weight="bold" fill="#111" text-anchor="end" >600</text>
<text x="309.8" y="96.24" font-family='"Liberation Sans", sans-serif' font-size="12.5" font-weight="bold" fill="#111" text-anchor="end" >800</text>
<text x="309.8" y="74.7" font-family='"Liberation Sans", sans-serif' font-size="12.5" font-weight="bold" fill="#111" text-anchor="end" >1000</text>
<text x="309.8" y="53.16" font-family='"Liberation Sans", sans-serif' font-size="12.5" font-weight="bold" fill="#111" text-anchor="end" >1200</text>
<text x="309.8" y="31.62" font-family='"Liberation Sans", sans-serif' font-size="12.5" font-weight="bold" fill="#111" text-anchor="end" >1400</text>
<line x1="320.8" y1="178.6" x2="497" y2="178.6" stroke="#111" stroke-width="1.5"/>
<line x1="352.9" y1="178.6" x2="352.9" y2="174.4" stroke="#111" stroke-width="1.7"/>
<line x1="394.5" y1="178.6" x2="394.5" y2="174.4" stroke="#111" stroke-width="1.7"/>
<line x1="431.3" y1="178.6" x2="431.3" y2="174.4" stroke="#111" stroke-width="1.7"/>
<line x1="468" y1="178.6" x2="468" y2="174.4" stroke="#111" stroke-width="1.7"/>
<text x="321.6" y="195.9" font-family='"Liberation Sans", sans-serif' font-size="12.8" font-weight="bold" fill="#111" text-anchor="middle" >0</text>
<text x="354" y="195.9" font-family='"Liberation Sans", sans-serif' font-size="12.8" font-weight="bold" fill="#111" text-anchor="middle" >25</text>
<text x="394.7" y="195.9" font-family='"Liberation Sans", sans-serif' font-size="12.8" font-weight="bold" fill="#111" text-anchor="middle" >50</text>
<text x="432.3" y="195.9" font-family='"Liberation Sans", sans-serif' font-size="12.8" font-weight="bold" fill="#111" text-anchor="middle" >75</text>
<text x="468.3" y="195.9" font-family='"Liberation Sans", sans-serif' font-size="12.8" font-weight="bold" fill="#111" text-anchor="middle" >100</text>
<line x1="497" y1="28.2" x2="497" y2="179.1" stroke="#1a6fc0" stroke-width="1.2"/>
<line x1="497" y1="178.6" x2="501" y2="178.6" stroke="#1a6fc0" stroke-width="1.1"/>
<text x="507.6" y="182.6" font-family='"Liberation Sans", sans-serif' font-size="12.4" font-weight="bold" fill="#0d66c2" text-anchor="start" >0</text>
<line x1="497" y1="151.1" x2="501" y2="151.1" stroke="#1a6fc0" stroke-width="1.1"/>
<text x="507.6" y="155.1" font-family='"Liberation Sans", sans-serif' font-size="12.4" font-weight="bold" fill="#0d66c2" text-anchor="start" >20</text>
<line x1="497" y1="123.6" x2="501" y2="123.6" stroke="#1a6fc0" stroke-width="1.1"/>
<text x="507.6" y="127.6" font-family='"Liberation Sans", sans-serif' font-size="12.4" font-weight="bold" fill="#0d66c2" text-anchor="start" >40</text>
<line x1="497" y1="96.1" x2="501" y2="96.1" stroke="#1a6fc0" stroke-width="1.1"/>
<text x="507.6" y="100.1" font-family='"Liberation Sans", sans-serif' font-size="12.4" font-weight="bold" fill="#0d66c2" text-anchor="start" >60</text>
<line x1="497" y1="68.6" x2="501" y2="68.6" stroke="#1a6fc0" stroke-width="1.1"/>
<text x="507.6" y="72.6" font-family='"Liberation Sans", sans-serif' font-size="12.4" font-weight="bold" fill="#0d66c2" text-anchor="start" >80</text>
<line x1="497" y1="41.1" x2="501" y2="41.1" stroke="#1a6fc0" stroke-width="1.1"/>
<text x="507.6" y="45.1" font-family='"Liberation Sans", sans-serif' font-size="12.4" font-weight="bold" fill="#0d66c2" text-anchor="start" >100</text>
<path d="M335.79,40.4 C338.73,43.22 344.6,51.82 350.48,54.5 C356.36,57.18 359.29,55.14 365.17,53.8 C371.05,52.46 373.98,49.22 379.86,47.8 C385.74,46.38 388.67,46.92 394.55,46.7 C400.43,46.48 403.36,46.94 409.24,46.7 C415.12,46.46 418.05,45.96 423.93,45.5 C429.81,45.04 432.74,44.32 438.62,44.4 C444.5,44.48 447.43,45.84 453.31,45.9 C459.19,45.96 465.06,44.94 468,44.7" fill="none" stroke="#2a7dc8" stroke-width="1.4"/>
<path d="M335.79,53.3 C338.73,61.1 344.6,81.86 350.48,92.3 C356.36,102.74 359.29,101.68 365.17,105.5 C371.05,109.32 373.98,109.5 379.86,111.4 C385.74,113.3 388.67,114.44 394.55,115 C400.43,115.56 403.36,113.96 409.24,114.2 C415.12,114.44 418.05,114.76 423.93,116.2 C429.81,117.64 432.74,120.2 438.62,121.4 C444.5,122.6 447.43,122.32 453.31,122.2 C459.19,122.08 465.06,121.08 468,120.8" fill="none" stroke="#ec6a6a" stroke-width="0.9"/>
<circle cx="335.79" cy="53.3" r="2.4" fill="#f01818"/>
<circle cx="350.48" cy="92.3" r="2.4" fill="#f01818"/>
<circle cx="365.17" cy="105.5" r="2.4" fill="#f01818"/>
<circle cx="379.86" cy="111.4" r="2.4" fill="#f01818"/>
<circle cx="394.55" cy="115" r="2.4" fill="#f01818"/>
<circle cx="409.24" cy="114.2" r="2.4" fill="#f01818"/>
<circle cx="423.93" cy="116.2" r="2.4" fill="#f01818"/>
<circle cx="438.62" cy="121.4" r="2.4" fill="#f01818"/>
<circle cx="453.31" cy="122.2" r="2.4" fill="#f01818"/>
<circle cx="468" cy="120.8" r="2.4" fill="#f01818"/>
<path d="M335.79,54.7 C338.73,60.32 344.6,74.06 350.48,82.8 C356.36,91.54 359.29,93.34 365.17,98.4 C371.05,103.46 373.98,105.28 379.86,108.1 C385.74,110.92 388.67,111.86 394.55,112.5 C400.43,113.14 403.36,110.98 409.24,111.3 C415.12,111.62 418.05,112.3 423.93,114.1 C429.81,115.9 432.74,119.12 438.62,120.3 C444.5,121.48 447.43,120.24 453.31,120 C459.19,119.76 465.06,119.28 468,119.1" fill="none" stroke="#222" stroke-width="1.2"/>
<circle cx="335.79" cy="54.7" r="2.4" fill="#050505"/>
<circle cx="350.48" cy="82.8" r="2.4" fill="#050505"/>
<circle cx="365.17" cy="98.4" r="2.4" fill="#050505"/>
<circle cx="379.86" cy="108.1" r="2.4" fill="#050505"/>
<circle cx="394.55" cy="112.5" r="2.4" fill="#050505"/>
<circle cx="409.24" cy="111.3" r="2.4" fill="#050505"/>
<circle cx="423.93" cy="114.1" r="2.4" fill="#050505"/>
<circle cx="438.62" cy="120.3" r="2.4" fill="#050505"/>
<circle cx="453.31" cy="120" r="2.4" fill="#050505"/>
<circle cx="468" cy="119.1" r="2.4" fill="#050505"/>
<circle cx="335.79" cy="40.4" r="2.4" fill="#0d66c2"/>
<circle cx="350.48" cy="54.5" r="2.4" fill="#0d66c2"/>
<circle cx="365.17" cy="53.8" r="2.4" fill="#0d66c2"/>
<circle cx="379.86" cy="47.8" r="2.4" fill="#0d66c2"/>
<circle cx="394.55" cy="46.7" r="2.4" fill="#0d66c2"/>
<circle cx="409.24" cy="46.7" r="2.4" fill="#0d66c2"/>
<circle cx="423.93" cy="45.5" r="2.4" fill="#0d66c2"/>
<circle cx="438.62" cy="44.4" r="2.4" fill="#0d66c2"/>
<circle cx="453.31" cy="45.9" r="2.4" fill="#0d66c2"/>
<circle cx="468" cy="44.7" r="2.4" fill="#0d66c2"/>
<line x1="339.8" y1="146.3" x2="349.8" y2="146.3" stroke="#ec6a6a" stroke-width="1"/>
<circle cx="344.8" cy="146.3" r="2.3" fill="#f01818"/>
<text x="350.9" y="149.1" font-family='"Liberation Sans", sans-serif' font-size="7.8" font-weight="bold" fill="#111" text-anchor="start" textLength="64.2" lengthAdjust="spacingAndGlyphs" >Discharg Capacity</text>
<line x1="339.8" y1="155.2" x2="349.8" y2="155.2" stroke="#222" stroke-width="1"/>
<circle cx="344.8" cy="155.2" r="2.3" fill="#050505"/>
<text x="350.9" y="158" font-family='"Liberation Sans", sans-serif' font-size="7.8" font-weight="bold" fill="#111" text-anchor="start" textLength="60.5" lengthAdjust="spacingAndGlyphs" >Charge Capacity</text>
<line x1="339.8" y1="164.1" x2="349.8" y2="164.1" stroke="#2a7dc8" stroke-width="1"/>
<circle cx="344.8" cy="164.1" r="2.3" fill="#0d66c2"/>
<text x="350.9" y="166.9" font-family='"Liberation Sans", sans-serif' font-size="7.8" font-weight="bold" fill="#111" text-anchor="start" textLength="70" lengthAdjust="spacingAndGlyphs" >Colombic Efficiency</text>
<text x="357.4" y="216" font-family='"Liberation Sans", sans-serif' font-size="12" font-weight="bold" fill="#111" text-anchor="start" textLength="83.6" lengthAdjust="spacingAndGlyphs" >Cycle number</text>
<text transform="translate(276.6,191) rotate(-90)" x="0" y="0" font-family='"Liberation Sans", sans-serif' font-size="12.7" font-weight="bold" fill="#111" textLength="161.6" lengthAdjust="spacingAndGlyphs">Specific capacity (mAh.g<tspan font-size="7.62" dy="-4.5">-1</tspan><tspan dy="4.5">)</tspan></text>
<text transform="translate(542.3,185.8) rotate(-90)" x="0" y="0" font-family='"Liberation Sans", sans-serif' font-size="12.6" font-weight="bold" fill="#0d66c2" text-anchor="start" textLength="157.2" lengthAdjust="spacingAndGlyphs" >Coloumbic efficicency (%)</text>
<text x="462.2" y="22.2" font-family='"Liberation Sans", sans-serif' font-size="15" font-weight="bold" fill="#111" text-anchor="start" textLength="19" lengthAdjust="spacingAndGlyphs" >(b)</text>
<line x1="329.6" y1="264.8" x2="329.6" y2="416.7" stroke="#111" stroke-width="1.4"/>
<line x1="329.6" y1="416.2" x2="333.6" y2="416.2" stroke="#111" stroke-width="1.1"/>
<line x1="329.6" y1="405.4" x2="332.6" y2="405.4" stroke="#111" stroke-width="1.1"/>
<line x1="329.6" y1="394.6" x2="333.6" y2="394.6" stroke="#111" stroke-width="1.1"/>
<line x1="329.6" y1="383.8" x2="332.6" y2="383.8" stroke="#111" stroke-width="1.1"/>
<line x1="329.6" y1="373" x2="333.6" y2="373" stroke="#111" stroke-width="1.1"/>
<line x1="329.6" y1="362.2" x2="332.6" y2="362.2" stroke="#111" stroke-width="1.1"/>
<line x1="329.6" y1="351.4" x2="333.6" y2="351.4" stroke="#111" stroke-width="1.1"/>
<line x1="329.6" y1="340.6" x2="332.6" y2="340.6" stroke="#111" stroke-width="1.1"/>
<line x1="329.6" y1="329.8" x2="333.6" y2="329.8" stroke="#111" stroke-width="1.1"/>
<line x1="329.6" y1="319" x2="332.6" y2="319" stroke="#111" stroke-width="1.1"/>
<line x1="329.6" y1="308.2" x2="333.6" y2="308.2" stroke="#111" stroke-width="1.1"/>
<line x1="329.6" y1="297.4" x2="332.6" y2="297.4" stroke="#111" stroke-width="1.1"/>
<line x1="329.6" y1="286.6" x2="333.6" y2="286.6" stroke="#111" stroke-width="1.1"/>
<line x1="329.6" y1="275.8" x2="332.6" y2="275.8" stroke="#111" stroke-width="1.1"/>
<line x1="329.6" y1="265" x2="333.6" y2="265" stroke="#111" stroke-width="1.1"/>
<text x="318.8" y="420" font-family='"Liberation Sans", sans-serif' font-size="12.3" font-weight="bold" fill="#111" text-anchor="end" >0</text>
<text x="318.8" y="398.4" font-family='"Liberation Sans", sans-serif' font-size="12.3" font-weight="bold" fill="#111" text-anchor="end" >200</text>
<text x="318.8" y="376.8" font-family='"Liberation Sans", sans-serif' font-size="12.3" font-weight="bold" fill="#111" text-anchor="end" >400</text>
<text x="318.8" y="355.2" font-family='"Liberation Sans", sans-serif' font-size="12.3" font-weight="bold" fill="#111" text-anchor="end" >600</text>
<text x="318.8" y="333.6" font-family='"Liberation Sans", sans-serif' font-size="12.3" font-weight="bold" fill="#111" text-anchor="end" >800</text>
<text x="318.8" y="312" font-family='"Liberation Sans", sans-serif' font-size="12.3" font-weight="bold" fill="#111" text-anchor="end" >1000</text>
<text x="318.8" y="290.4" font-family='"Liberation Sans", sans-serif' font-size="12.3" font-weight="bold" fill="#111" text-anchor="end" >1200</text>
<text x="318.8" y="268.8" font-family='"Liberation Sans", sans-serif' font-size="12.3" font-weight="bold" fill="#111" text-anchor="end" >1400</text>
<line x1="329" y1="416.2" x2="499.4" y2="416.2" stroke="#111" stroke-width="1.5"/>
<line x1="362.8" y1="416.2" x2="362.8" y2="412" stroke="#111" stroke-width="1.7"/>
<line x1="397.1" y1="416.2" x2="397.1" y2="412" stroke="#111" stroke-width="1.7"/>
<line x1="431.4" y1="416.2" x2="431.4" y2="412" stroke="#111" stroke-width="1.7"/>
<line x1="465.5" y1="416.2" x2="465.5" y2="412" stroke="#111" stroke-width="1.7"/>
<text x="331.3" y="433.8" font-family='"Liberation Sans", sans-serif' font-size="12.8" font-weight="bold" fill="#111" text-anchor="middle" >0</text>
<text x="364" y="433.8" font-family='"Liberation Sans", sans-serif' font-size="12.8" font-weight="bold" fill="#111" text-anchor="middle" >25</text>
<text x="398.8" y="433.8" font-family='"Liberation Sans", sans-serif' font-size="12.8" font-weight="bold" fill="#111" text-anchor="middle" >50</text>
<text x="430.8" y="433.8" font-family='"Liberation Sans", sans-serif' font-size="12.8" font-weight="bold" fill="#111" text-anchor="middle" >75</text>
<text x="465.7" y="433.8" font-family='"Liberation Sans", sans-serif' font-size="12.8" font-weight="bold" fill="#111" text-anchor="middle" >100</text>
<line x1="499.4" y1="264.7" x2="499.4" y2="416.7" stroke="#1a6fc0" stroke-width="1.2"/>
<line x1="499.4" y1="416.2" x2="503.4" y2="416.2" stroke="#1a6fc0" stroke-width="1.1"/>
<text x="510" y="420.2" font-family='"Liberation Sans", sans-serif' font-size="12.4" font-weight="bold" fill="#0d66c2" text-anchor="start" >0</text>
<line x1="499.4" y1="388.5" x2="503.4" y2="388.5" stroke="#1a6fc0" stroke-width="1.1"/>
<text x="510" y="392.5" font-family='"Liberation Sans", sans-serif' font-size="12.4" font-weight="bold" fill="#0d66c2" text-anchor="start" >20</text>
<line x1="499.4" y1="360.8" x2="503.4" y2="360.8" stroke="#1a6fc0" stroke-width="1.1"/>
<text x="510" y="364.8" font-family='"Liberation Sans", sans-serif' font-size="12.4" font-weight="bold" fill="#0d66c2" text-anchor="start" >40</text>
<line x1="499.4" y1="333.1" x2="503.4" y2="333.1" stroke="#1a6fc0" stroke-width="1.1"/>
<text x="510" y="337.1" font-family='"Liberation Sans", sans-serif' font-size="12.4" font-weight="bold" fill="#0d66c2" text-anchor="start" >60</text>
<line x1="499.4" y1="305.4" x2="503.4" y2="305.4" stroke="#1a6fc0" stroke-width="1.1"/>
<text x="510" y="309.4" font-family='"Liberation Sans", sans-serif' font-size="12.4" font-weight="bold" fill="#0d66c2" text-anchor="start" >80</text>
<line x1="499.4" y1="277.7" x2="503.4" y2="277.7" stroke="#1a6fc0" stroke-width="1.1"/>
<text x="510" y="281.7" font-family='"Liberation Sans", sans-serif' font-size="12.4" font-weight="bold" fill="#0d66c2" text-anchor="start" >100</text>
<path d="M336.16,271.3 C337.53,271.66 340.28,272.22 343.02,273.1 C345.76,273.98 347.14,275.42 349.88,275.7 C352.62,275.98 354,274.74 356.74,274.5 C359.48,274.26 360.86,274.2 363.6,274.5 C366.34,274.8 367.72,275.84 370.46,276 C373.2,276.16 374.58,275.36 377.32,275.3 C380.06,275.24 381.44,275.48 384.18,275.7 C386.92,275.92 388.3,276.16 391.04,276.4 C393.78,276.64 395.16,276.68 397.9,276.9 C400.64,277.12 402.02,277.44 404.76,277.5 C407.5,277.56 408.88,277.26 411.62,277.2 C414.36,277.14 415.74,277.14 418.48,277.2 C421.22,277.26 422.6,277.44 425.34,277.5 C428.08,277.56 429.46,277.8 432.2,277.5 C434.94,277.2 436.32,275.92 439.06,276 C441.8,276.08 443.18,277.38 445.92,277.9 C448.66,278.42 450.04,278.54 452.78,278.6 C455.52,278.66 456.9,278.34 459.64,278.2 C462.38,278.06 465.13,277.96 466.5,277.9" fill="none" stroke="#2a7dc8" stroke-width="1.4"/>
<path d="M336.16,337.3 C337.53,339.74 340.28,345.2 343.02,349.5 C345.76,353.8 347.14,356.92 349.88,358.8 C352.62,360.68 354,358.18 356.74,358.9 C359.48,359.62 360.86,361.18 363.6,362.4 C366.34,363.62 367.72,364.2 370.46,365 C373.2,365.8 374.58,365.62 377.32,366.4 C380.06,367.18 381.44,368 384.18,368.9 C386.92,369.8 388.3,370.24 391.04,370.9 C393.78,371.56 395.16,371.86 397.9,372.2 C400.64,372.54 402.02,372.46 404.76,372.6 C407.5,372.74 408.88,372.54 411.62,372.9 C414.36,373.26 415.74,373.88 418.48,374.4 C421.22,374.92 422.6,375.08 425.34,375.5 C428.08,375.92 429.46,375.94 432.2,376.5 C434.94,377.06 436.32,377.56 439.06,378.3 C441.8,379.04 443.18,379.78 445.92,380.2 C448.66,380.62 450.04,380.7 452.78,380.4 C455.52,380.1 456.9,379.04 459.64,378.7 C462.38,378.36 465.13,378.7 466.5,378.7" fill="none" stroke="#ec6a6a" stroke-width="0.9"/>
<circle cx="336.16" cy="337.3" r="2.25" fill="#f01818"/>
<circle cx="343.02" cy="349.5" r="2.25" fill="#f01818"/>
<circle cx="349.88" cy="358.8" r="2.25" fill="#f01818"/>
<circle cx="356.74" cy="358.9" r="2.25" fill="#f01818"/>
<circle cx="363.6" cy="362.4" r="2.25" fill="#f01818"/>
<circle cx="370.46" cy="365" r="2.25" fill="#f01818"/>
<circle cx="377.32" cy="366.4" r="2.25" fill="#f01818"/>
<circle cx="384.18" cy="368.9" r="2.25" fill="#f01818"/>
<circle cx="391.04" cy="370.9" r="2.25" fill="#f01818"/>
<circle cx="397.9" cy="372.2" r="2.25" fill="#f01818"/>
<circle cx="404.76" cy="372.6" r="2.25" fill="#f01818"/>
<circle cx="411.62" cy="372.9" r="2.25" fill="#f01818"/>
<circle cx="418.48" cy="374.4" r="2.25" fill="#f01818"/>
<circle cx="425.34" cy="375.5" r="2.25" fill="#f01818"/>
<circle cx="432.2" cy="376.5" r="2.25" fill="#f01818"/>
<circle cx="439.06" cy="378.3" r="2.25" fill="#f01818"/>
<circle cx="445.92" cy="380.2" r="2.25" fill="#f01818"/>
<circle cx="452.78" cy="380.4" r="2.25" fill="#f01818"/>
<circle cx="459.64" cy="378.7" r="2.25" fill="#f01818"/>
<circle cx="466.5" cy="378.7" r="2.25" fill="#f01818"/>
<path d="M336.16,341.8 C337.53,343.98 340.28,349.16 343.02,352.7 C345.76,356.24 347.14,358.04 349.88,359.5 C352.62,360.96 354,359.18 356.74,360 C359.48,360.82 360.86,362.36 363.6,363.6 C366.34,364.84 367.72,365.4 370.46,366.2 C373.2,367 374.58,366.84 377.32,367.6 C380.06,368.36 381.44,369.14 384.18,370 C386.92,370.86 388.3,371.26 391.04,371.9 C393.78,372.54 395.16,372.86 397.9,373.2 C400.64,373.54 402.02,373.46 404.76,373.6 C407.5,373.74 408.88,373.54 411.62,373.9 C414.36,374.26 415.74,374.88 418.48,375.4 C421.22,375.92 422.6,376.08 425.34,376.5 C428.08,376.92 429.46,376.92 432.2,377.5 C434.94,378.08 436.32,378.66 439.06,379.4 C441.8,380.14 443.18,380.78 445.92,381.2 C448.66,381.62 450.04,381.8 452.78,381.5 C455.52,381.2 456.9,380.06 459.64,379.7 C462.38,379.34 465.13,379.7 466.5,379.7" fill="none" stroke="#222" stroke-width="1.2"/>
<circle cx="336.16" cy="341.8" r="2.25" fill="#050505"/>
<circle cx="343.02" cy="352.7" r="2.25" fill="#050505"/>
<circle cx="349.88" cy="359.5" r="2.25" fill="#050505"/>
<circle cx="356.74" cy="360" r="2.25" fill="#050505"/>
<circle cx="363.6" cy="363.6" r="2.25" fill="#050505"/>
<circle cx="370.46" cy="366.2" r="2.25" fill="#050505"/>
<circle cx="377.32" cy="367.6" r="2.25" fill="#050505"/>
<circle cx="384.18" cy="370" r="2.25" fill="#050505"/>
<circle cx="391.04" cy="371.9" r="2.25" fill="#050505"/>
<circle cx="397.9" cy="373.2" r="2.25" fill="#050505"/>
<circle cx="404.76" cy="373.6" r="2.25" fill="#050505"/>
<circle cx="411.62" cy="373.9" r="2.25" fill="#050505"/>
<circle cx="418.48" cy="375.4" r="2.25" fill="#050505"/>
<circle cx="425.34" cy="376.5" r="2.25" fill="#050505"/>
<circle cx="432.2" cy="377.5" r="2.25" fill="#050505"/>
<circle cx="439.06" cy="379.4" r="2.25" fill="#050505"/>
<circle cx="445.92" cy="381.2" r="2.25" fill="#050505"/>
<circle cx="452.78" cy="381.5" r="2.25" fill="#050505"/>
<circle cx="459.64" cy="379.7" r="2.25" fill="#050505"/>
<circle cx="466.5" cy="379.7" r="2.25" fill="#050505"/>
<circle cx="336.16" cy="271.3" r="2.25" fill="#0d66c2"/>
<circle cx="343.02" cy="273.1" r="2.25" fill="#0d66c2"/>
<circle cx="349.88" cy="275.7" r="2.25" fill="#0d66c2"/>
<circle cx="356.74" cy="274.5" r="2.25" fill="#0d66c2"/>
<circle cx="363.6" cy="274.5" r="2.25" fill="#0d66c2"/>
<circle cx="370.46" cy="276" r="2.25" fill="#0d66c2"/>
<circle cx="377.32" cy="275.3" r="2.25" fill="#0d66c2"/>
<circle cx="384.18" cy="275.7" r="2.25" fill="#0d66c2"/>
<circle cx="391.04" cy="276.4" r="2.25" fill="#0d66c2"/>
<circle cx="397.9" cy="276.9" r="2.25" fill="#0d66c2"/>
<circle cx="404.76" cy="277.5" r="2.25" fill="#0d66c2"/>
<circle cx="411.62" cy="277.2" r="2.25" fill="#0d66c2"/>
<circle cx="418.48" cy="277.2" r="2.25" fill="#0d66c2"/>
<circle cx="425.34" cy="277.5" r="2.25" fill="#0d66c2"/>
<circle cx="432.2" cy="277.5" r="2.25" fill="#0d66c2"/>
<circle cx="439.06" cy="276" r="2.25" fill="#0d66c2"/>
<circle cx="445.92" cy="277.9" r="2.25" fill="#0d66c2"/>
<circle cx="452.78" cy="278.6" r="2.25" fill="#0d66c2"/>
<circle cx="459.64" cy="278.2" r="2.25" fill="#0d66c2"/>
<circle cx="466.5" cy="277.9" r="2.25" fill="#0d66c2"/>
<line x1="347" y1="382.3" x2="357" y2="382.3" stroke="#ec6a6a" stroke-width="1"/>
<circle cx="352" cy="382.3" r="2.3" fill="#f01818"/>
<text x="358.4" y="385.1" font-family='"Liberation Sans", sans-serif' font-size="8.5" font-weight="bold" fill="#111" text-anchor="start" textLength="61.6" lengthAdjust="spacingAndGlyphs" >Discharg Capacity</text>
<line x1="347" y1="391.6" x2="357" y2="391.6" stroke="#222" stroke-width="1"/>
<circle cx="352" cy="391.6" r="2.3" fill="#050505"/>
<text x="358.4" y="394.4" font-family='"Liberation Sans", sans-serif' font-size="8.5" font-weight="bold" fill="#111" text-anchor="start" textLength="57.5" lengthAdjust="spacingAndGlyphs" >Charge Capacity</text>
<line x1="347" y1="400.9" x2="357" y2="400.9" stroke="#2a7dc8" stroke-width="1"/>
<circle cx="352" cy="400.9" r="2.3" fill="#0d66c2"/>
<text x="358.4" y="403.7" font-family='"Liberation Sans", sans-serif' font-size="8.5" font-weight="bold" fill="#111" text-anchor="start" textLength="68" lengthAdjust="spacingAndGlyphs" >Colombic Efficiency</text>
<text x="364.7" y="455.5" font-family='"Liberation Sans", sans-serif' font-size="12.2" font-weight="bold" fill="#111" text-anchor="start" textLength="80.9" lengthAdjust="spacingAndGlyphs" >Cycle number</text>
<text transform="translate(286.3,429.4) rotate(-90)" x="0" y="0" font-family='"Liberation Sans", sans-serif' font-size="13.2" font-weight="bold" fill="#111" textLength="170" lengthAdjust="spacingAndGlyphs">Specific capacity (mAh.g<tspan font-size="7.92" dy="-4.5">-1</tspan><tspan dy="4.5">)</tspan></text>
<text transform="translate(543.8,424.4) rotate(-90)" x="0" y="0" font-family='"Liberation Sans", sans-serif' font-size="13.2" font-weight="bold" fill="#0d66c2" text-anchor="start" textLength="166.2" lengthAdjust="spacingAndGlyphs" >Coloumbic efficicency (%)</text>
<text x="462.6" y="250.3" font-family='"Liberation Sans", sans-serif' font-size="15" font-weight="bold" fill="#111" text-anchor="start" textLength="19" lengthAdjust="spacingAndGlyphs" >(d)</text>
</svg>
</body></html>
